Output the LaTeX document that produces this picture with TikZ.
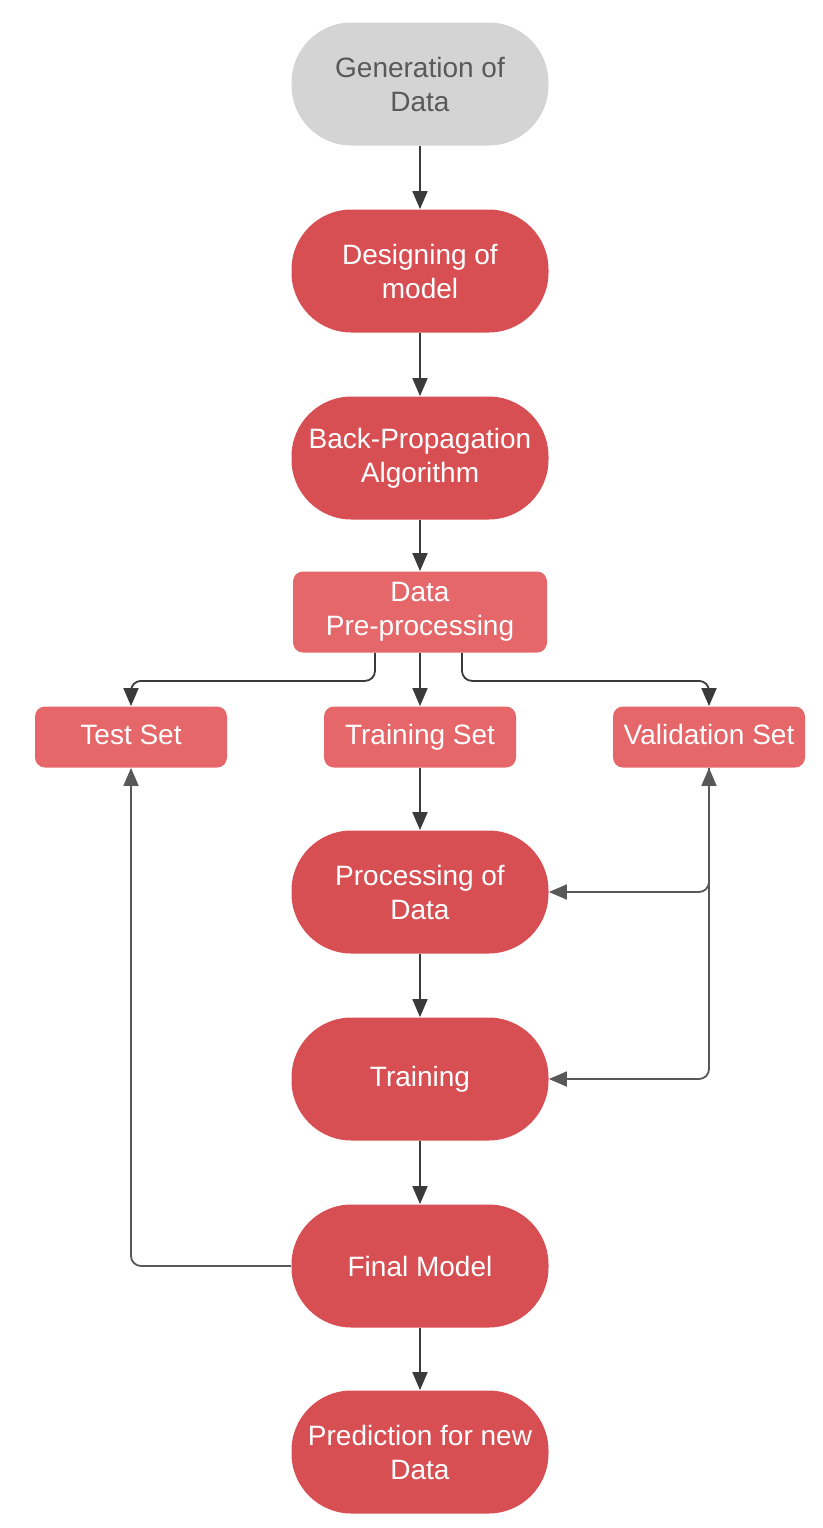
\documentclass[tikz,border=0pt]{standalone}
\usepackage{fontspec}
\setmainfont{Liberation Sans}
\usetikzlibrary{arrows.meta}
\definecolor{pillred}{HTML}{D84F53}
\definecolor{boxred}{HTML}{E5676A}
\definecolor{pillgray}{HTML}{D4D4D4}
\definecolor{lnk}{HTML}{3A3A3A}
\begin{document}
\begin{tikzpicture}[x=0.5pt, y=-0.5pt,
  pill/.style={rectangle, rounded corners=30pt, fill=pillred, text=white, minimum width=128.5pt, minimum height=61.5pt, align=center, inner sep=2pt, font=\fontsize{14}{17}\selectfont},
  start/.style={pill, fill=pillgray, text=black!65},
  box/.style={rectangle, rounded corners=5pt, fill=boxred, text=white, minimum height=30.5pt, align=center, inner sep=2pt, font=\fontsize{14}{17}\selectfont},
  setbox/.style={box, minimum width=96pt, text height=10pt, text depth=3pt},
  ar/.style={draw=lnk, line width=0.9pt, -{Triangle[length=9pt, width=7.5pt]}},
  br/.style={draw=lnk!85, line width=0.9pt, rounded corners=5pt}]
\fill[white] (0,0) rectangle (823,1528);
\useasboundingbox (0,0) rectangle (823,1528);
% main column
\node[start] (gen) at (420,84) {Generation of\\Data};
\node[pill] (design) at (420,271) {Designing of\\model};
\node[pill] (backprop) at (420,458) {Back-Propagation\\Algorithm};
\node[box, minimum width=127pt, minimum height=40.5pt] (prep) at (420,612) {Data\\Pre-processing};
% the three sets
\node[setbox] (test) at (131,737) {Test Set};
\node[setbox] (trainset) at (420,737) {Training Set};
\node[setbox] (valid) at (709,737) {Validation Set};
\node[pill] (proc) at (420,892) {Processing of\\Data};
\node[pill] (train) at (420,1079) {Training};
\node[pill] (final) at (420,1266) {Final Model};
\node[pill] (pred) at (420,1452) {Prediction for new\\Data};
% links
\draw[ar] (gen) -- (design);
\draw[ar] (design) -- (backprop);
\draw[ar] (backprop) -- (prep);
\draw[ar] (prep) -- (trainset);
\draw[ar, rounded corners=5pt] ([xshift=-22.5pt]prep.south) -- ++(0,-14pt) -| (test.north);
\draw[ar, rounded corners=5pt] ([xshift=21pt]prep.south) -- ++(0,-14pt) -| (valid.north);
\draw[ar] (trainset) -- (proc);
\draw[ar] (proc) -- (train);
\draw[ar] (train) -- (final);
\draw[ar] (final) -- (pred);
\draw[br, {Triangle[length=9pt, width=7.5pt]}-{Triangle[length=9pt, width=7.5pt]}] (proc.east) -| (valid.south);
\draw[br, -{Triangle[length=9pt, width=7.5pt]}] (valid.south) |- (train.east);
\draw[br, -{Triangle[length=9pt, width=7.5pt]}] (final.west) -| (test.south);
\end{tikzpicture}
\end{document}
